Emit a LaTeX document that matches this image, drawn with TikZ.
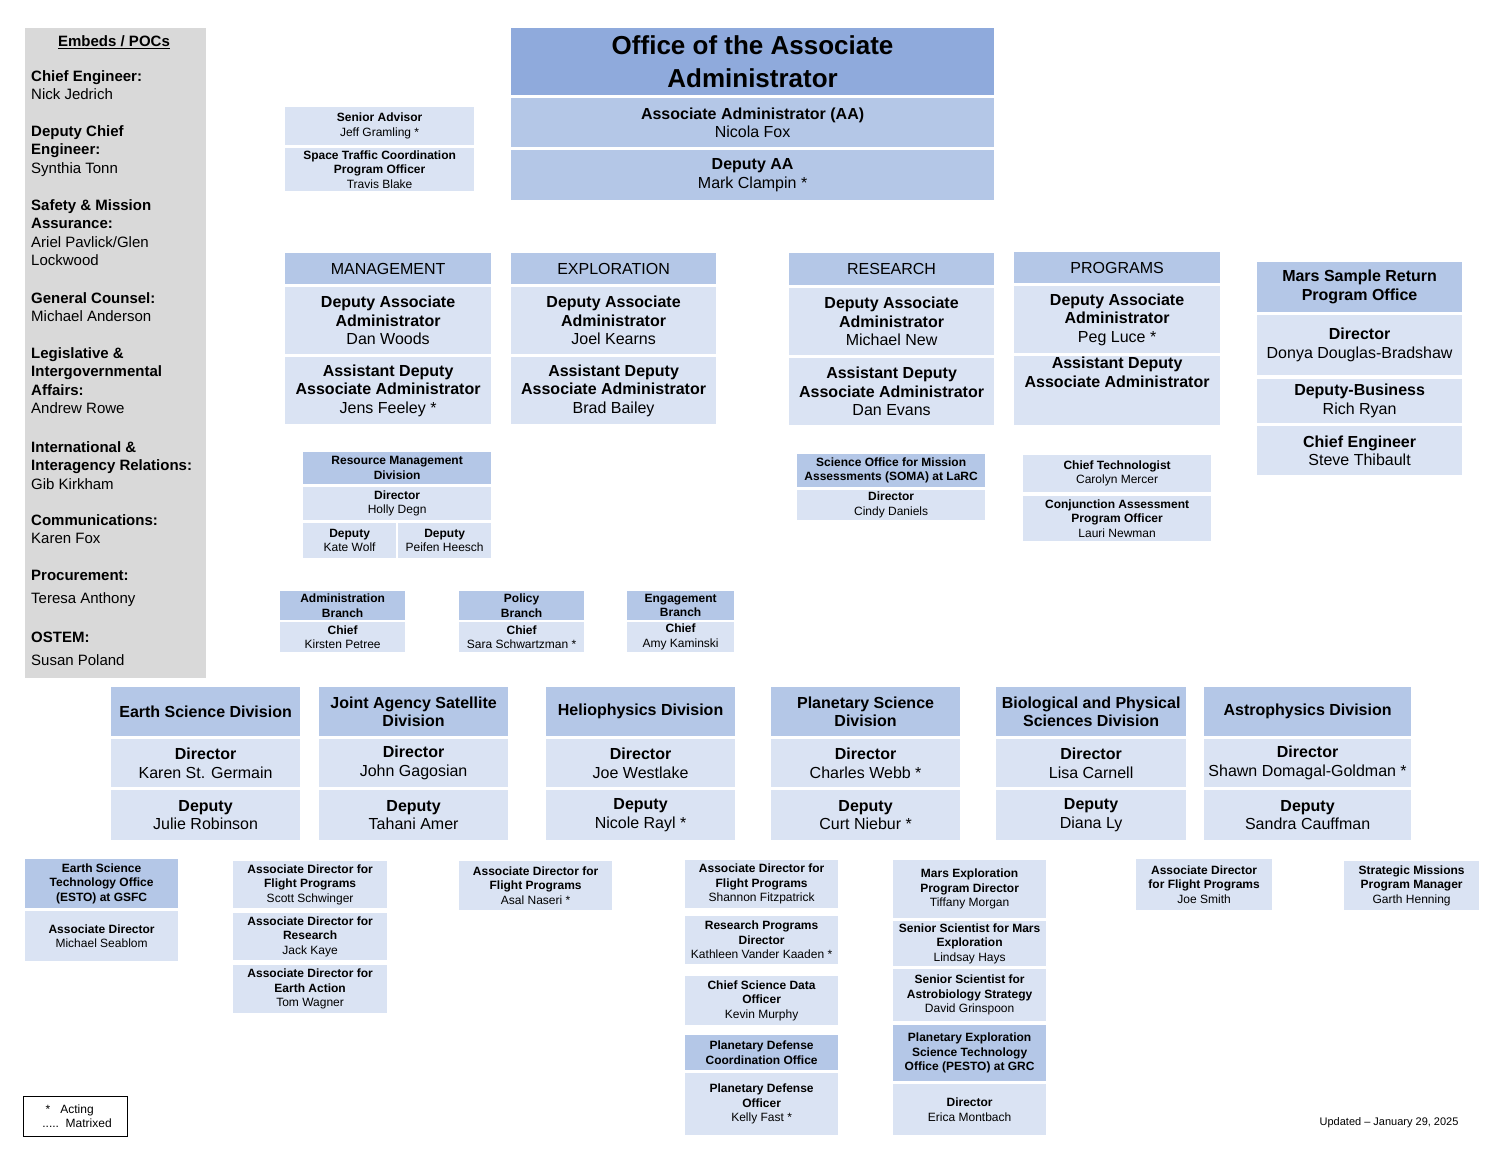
\documentclass[tikz,border=0pt]{standalone}
\usepackage{fontspec}
\setmainfont{Liberation Sans}
\usetikzlibrary{backgrounds}
\definecolor{hdrblue}{HTML}{B4C7E7}
\definecolor{bdyblue}{HTML}{DAE3F3}
\definecolor{topblue}{HTML}{8FAADC}
\definecolor{lineblue}{HTML}{B4C7E7}
\definecolor{panelgray}{HTML}{D9D9D9}
\tikzset{
  box/.style={rectangle, draw=white, line width=1.2pt, inner sep=0pt, align=center, anchor=north west},
  hdr/.style={box, fill=hdrblue},
  bdy/.style={box, fill=bdyblue},
  topb/.style={box, fill=topblue},
  fbig/.style={font=\fontsize{16}{18.5}\selectfont},
  fmid/.style={font=\fontsize{15}{18}\selectfont},
  fsm/.style={font=\fontsize{12}{14.5}\selectfont},
  conn/.style={draw=lineblue, line width=3pt},
}
% box from top left (x1,y1) to bottom right (x2,y2)
\newcommand{\bx}[7]{\node[#2, minimum width={(#5-#3)*1pt}, minimum height={(#6-#4)*1pt}] (#1) at (#3,#4) {#7};}
\begin{document}
\begin{tikzpicture}[x=1pt,y=-1pt]
\useasboundingbox[fill=white] (0,0) rectangle (1508,1159);

% left panel
\bx{panel}{box, fill=panelgray, draw=none}{24}{27}{205}{677}{}
\node[fmid] (ptitle) at (114,42) {\textbf{\underline{Embeds / POCs}}};
\begin{scope}[every node/.style={anchor=north west, align=left, inner sep=0pt, font=\fontsize{15}{18.5}\selectfont}]
\node (p1) at (31,70) {\textbf{Chief Engineer:}\\Nick Jedrich};
\node (p2) at (31,125) {\textbf{Deputy Chief}\\\textbf{Engineer:}\\Synthia Tonn};
\node (p3) at (31,199) {\textbf{Safety \& Mission}\\\textbf{Assurance:}\\Ariel Pavlick/Glen\\Lockwood};
\node (p4) at (31,292) {\textbf{General Counsel:}\\Michael Anderson};
\node (p5) at (31,347) {\textbf{Legislative \&}\\\textbf{Intergovernmental}\\\textbf{Affairs:}\\Andrew Rowe};
\node (p6) at (31,441) {\textbf{International \&}\\\textbf{Interagency Relations:}\\Gib Kirkham};
\node (p7) at (31,514) {\textbf{Communications:}\\Karen Fox};
\node (p8) at (31,570) {\textbf{Procurement:}\\[4pt]Teresa Anthony};
\node (p9) at (31,632) {\textbf{OSTEM:}\\[4pt]Susan Poland};
\end{scope}

% front office
\bx{oa}{topb, font=\fontsize{26}{33}\selectfont\bfseries}{510}{27}{994}{95}{Office of the Associate\\Administrator}
\bx{aa}{hdr, fbig}{510}{97}{994}{147}{\textbf{Associate Administrator (AA)}\\Nicola Fox}
\bx{daa}{hdr, fbig}{510}{149}{994}{200}{\textbf{Deputy AA}\\Mark Clampin *}
\bx{sa1}{bdy, fsm}{284}{106}{474}{145}{\textbf{Senior Advisor}\\Jeff Gramling *}
\bx{sa2}{bdy, fsm}{284}{147}{474}{191}{\textbf{Space Traffic Coordination}\\\textbf{Program Officer}\\Travis Blake}

% columns
\bx{mgmt}{hdr, fbig}{284}{252}{491}{284}{MANAGEMENT}
\bx{mgmt2}{bdy, fbig}{284}{286}{491}{354}{\textbf{Deputy Associate}\\\textbf{Administrator}\\Dan Woods}
\bx{mgmt3}{bdy, fbig}{284}{356}{491}{424}{\textbf{Assistant Deputy}\\\textbf{Associate Administrator}\\Jens Feeley *}
\bx{expl}{hdr, fbig}{510}{252}{716}{284}{EXPLORATION}
\bx{expl2}{bdy, fbig}{510}{286}{716}{354}{\textbf{Deputy Associate}\\\textbf{Administrator}\\Joel Kearns}
\bx{expl3}{bdy, fbig}{510}{356}{716}{424}{\textbf{Assistant Deputy}\\\textbf{Associate Administrator}\\Brad Bailey}
\bx{res}{hdr, fbig}{788}{252}{994}{285}{RESEARCH}
\bx{res2}{bdy, fbig}{788}{287}{994}{355}{\textbf{Deputy Associate}\\\textbf{Administrator}\\Michael New}
\bx{res3}{bdy, fbig}{788}{357}{994}{425}{\textbf{Assistant Deputy}\\\textbf{Associate Administrator}\\Dan Evans}
\bx{prog}{hdr, fbig}{1013}{251}{1220}{283}{PROGRAMS}
\bx{prog2}{bdy, fbig}{1013}{285}{1220}{353}{\textbf{Deputy Associate}\\\textbf{Administrator}\\Peg Luce *}
\bx{prog3}{bdy, fbig}{1013}{355}{1220}{425}{\textbf{Assistant Deputy}\\\textbf{Associate Administrator}\\[18pt]}

% mars sample return
\bx{msr}{hdr, fbig}{1256}{261}{1462}{312}{\textbf{Mars Sample Return}\\\textbf{Program Office}}
\bx{msr2}{bdy, fbig}{1256}{314}{1462}{375}{\textbf{Director}\\Donya Douglas-Bradshaw}
\bx{msr3}{bdy, fbig}{1256}{378}{1462}{423}{\textbf{Deputy-Business}\\Rich Ryan}
\bx{msr4}{bdy, fbig}{1256}{425}{1462}{475}{\textbf{Chief Engineer}\\Steve Thibault}

% management offices
\bx{rmd}{hdr, fsm}{302}{451}{491}{484}{\textbf{Resource Management}\\\textbf{Division}}
\bx{rmd2}{bdy, fsm}{302}{486}{491}{520}{\textbf{Director}\\Holly Degn}
\bx{rmd3}{bdy, fsm}{302}{522}{396}{558}{\textbf{Deputy}\\Kate Wolf}
\bx{rmd4}{bdy, fsm}{397}{522}{491}{558}{\textbf{Deputy}\\Peifen Heesch}
\bx{adm}{hdr, fsm}{279}{590}{405}{620}{\textbf{Administration}\\\textbf{Branch}}
\bx{adm2}{bdy, fsm}{279}{621}{405}{652}{\textbf{Chief}\\Kirsten Petree}
\bx{pol}{hdr, fsm}{458}{590}{584}{620}{\textbf{Policy}\\\textbf{Branch}}
\bx{pol2}{bdy, fsm}{458}{621}{584}{652}{\textbf{Chief}\\Sara Schwartzman *}
\bx{eng}{hdr, fsm}{626}{590}{734}{620}{\textbf{Engagement}\\\textbf{Branch}}
\bx{eng2}{bdy, fsm}{626}{621}{734}{652}{\textbf{Chief}\\Amy Kaminski}

% research / programs offices
\bx{soma}{hdr, fsm}{796}{453}{985}{487}{\textbf{Science Office for Mission}\\\textbf{Assessments (SOMA) at LaRC}}
\bx{soma2}{bdy, fsm}{796}{489}{985}{520}{\textbf{Director}\\Cindy Daniels}
\bx{ct}{bdy, fsm}{1022}{454}{1211}{492}{\textbf{Chief Technologist}\\Carolyn Mercer}
\bx{cap}{bdy, fsm}{1022}{495}{1211}{541}{\textbf{Conjunction Assessment}\\\textbf{Program Officer}\\Lauri Newman}

% divisions
\bx{esd}{hdr, fbig}{110}{686}{300}{736}{\textbf{Earth Science Division}}
\bx{esd2}{bdy, fbig}{110}{738}{300}{787}{\textbf{Director}\\Karen St. Germain}
\bx{esd3}{bdy, fbig}{110}{789}{300}{840}{\textbf{Deputy}\\Julie Robinson}
\bx{jasd}{hdr, fbig}{318}{686}{508}{736}{\textbf{Joint Agency Satellite}\\\textbf{Division}}
\bx{jasd2}{bdy, fbig}{318}{738}{508}{787}{\textbf{Director}\\John Gagosian}
\bx{jasd3}{bdy, fbig}{318}{789}{508}{840}{\textbf{Deputy}\\Tahani Amer}
\bx{hel}{hdr, fbig}{545}{686}{735}{736}{\textbf{Heliophysics Division}}
\bx{hel2}{bdy, fbig}{545}{738}{735}{787}{\textbf{Director}\\Joe Westlake}
\bx{hel3}{bdy, fbig}{545}{789}{735}{840}{\textbf{Deputy}\\Nicole Rayl *}
\bx{psd}{hdr, fbig}{770}{686}{960}{736}{\textbf{Planetary Science}\\\textbf{Division}}
\bx{psd2}{bdy, fbig}{770}{738}{960}{787}{\textbf{Director}\\Charles Webb *}
\bx{psd3}{bdy, fbig}{770}{789}{960}{840}{\textbf{Deputy}\\Curt Niebur *}
\bx{bps}{hdr, fbig}{995}{686}{1186}{736}{\textbf{Biological and Physical}\\\textbf{Sciences Division}}
\bx{bps2}{bdy, fbig}{995}{738}{1186}{787}{\textbf{Director}\\Lisa Carnell}
\bx{bps3}{bdy, fbig}{995}{789}{1186}{840}{\textbf{Deputy}\\Diana Ly}
\bx{ast}{hdr, fbig}{1203}{686}{1411}{736}{\textbf{Astrophysics Division}}
\bx{ast2}{bdy, fbig}{1203}{738}{1411}{787}{\textbf{Director}\\Shawn Domagal-Goldman *}
\bx{ast3}{bdy, fbig}{1203}{789}{1411}{840}{\textbf{Deputy}\\Sandra Cauffman}

% earth science offices
\bx{ead1}{bdy, fsm}{232}{860}{387}{908}{\textbf{Associate Director for}\\\textbf{Flight Programs}\\Scott Schwinger}
\bx{ead2}{bdy, fsm}{232}{912}{387}{960}{\textbf{Associate Director for}\\\textbf{Research}\\Jack Kaye}
\bx{ead3}{bdy, fsm}{232}{964}{387}{1013}{\textbf{Associate Director for}\\\textbf{Earth Action}\\Tom Wagner}
\bx{esto}{hdr, fsm}{24}{858}{178}{908}{\textbf{Earth Science}\\\textbf{Technology Office}\\\textbf{(ESTO) at GSFC}}
\bx{esto2}{bdy, fsm}{24}{910}{178}{961}{\textbf{Associate Director}\\Michael Seablom}
\bx{had}{bdy, fsm}{458}{860}{612}{910}{\textbf{Associate Director for}\\\textbf{Flight Programs}\\Asal Naseri *}

% planetary offices
\bx{pl1}{bdy, fsm}{684}{859}{838}{908}{\textbf{Associate Director for}\\\textbf{Flight Programs}\\Shannon Fitzpatrick}
\bx{pl2}{bdy, fsm}{684}{915}{838}{964}{\textbf{Research Programs}\\\textbf{Director}\\Kathleen Vander Kaaden *}
\bx{pl3}{bdy, fsm}{684}{975}{838}{1025}{\textbf{Chief Science Data}\\\textbf{Officer}\\Kevin Murphy}
\bx{pl4}{hdr, fsm}{684}{1034}{838}{1070}{\textbf{Planetary Defense}\\\textbf{Coordination Office}}
\bx{pl5}{bdy, fsm}{684}{1072}{838}{1135}{\textbf{Planetary Defense}\\\textbf{Officer}\\Kelly Fast *}
\bx{pr1}{bdy, fsm}{892}{859}{1046}{918}{\textbf{Mars Exploration}\\\textbf{Program Director}\\Tiffany Morgan}
\bx{pr2}{bdy, fsm}{892}{920}{1046}{966}{\textbf{Senior Scientist for Mars}\\\textbf{Exploration}\\Lindsay Hays}
\bx{pr3}{bdy, fsm}{892}{968}{1046}{1021}{\textbf{Senior Scientist for}\\\textbf{Astrobiology Strategy}\\David Grinspoon}
\bx{pr4}{hdr, fsm}{892}{1024}{1046}{1081}{\textbf{Planetary Exploration}\\\textbf{Science Technology}\\\textbf{Office (PESTO) at GRC}}
\bx{pr5}{bdy, fsm}{892}{1083}{1046}{1135}{\textbf{Director}\\Erica Montbach}

% astrophysics offices
\bx{aad}{bdy, fsm}{1135}{858}{1272}{910}{\textbf{Associate Director}\\\textbf{for Flight Programs}\\Joe Smith}
\bx{smpm}{bdy, fsm}{1343}{860}{1479}{910}{\textbf{Strategic Missions}\\\textbf{Program Manager}\\Garth Henning}

% legend
\node[draw, line width=0.8pt, anchor=north west, minimum width=104pt, minimum height=40pt, align=left, inner sep=0pt, fsm] (legend) at (23,1096) {\ \ *\ \ \ Acting\\\ .....\ \ Matrixed};
\node[anchor=east, font=\fontsize{11}{13}\selectfont] (upd) at (1462,1123) {Updated -- January 29, 2025};

% connectors
\coordinate (j1) at (752,222);
\coordinate (j2) at (752,235);
\coordinate (j3) at (752,668);
\coordinate (m2) at (267,572);
\coordinate (m3) at (267,441);
\coordinate (pj) at (865,1054);
\begin{scope}[on background layer, every path/.style={conn}]
\draw (sa1.south east) -- (aa.south west);
\draw (oa.east) -| (msr.north);
\draw (daa.south) -- (j3);
\draw (j1) -- (panel.east |- j1);
\draw (mgmt.north) |- (j2) -| (prog.north);
\draw (expl.north) -- (expl.north |- j2);
\draw (res.north) -- (res.north |- j2);
\draw (mgmt.west) -| (m2) -| (eng.north);
\draw (adm.north) -- (adm.north |- m2);
\draw (pol.north) -- (pol.north |- m2);
\draw (mgmt3.south) -- (mgmt3.south |- rmd.north);
\draw (m3) -- (m3 -| mgmt3.south);
\draw[dash pattern=on 3pt off 3pt] (res3.south) -- (soma.north);
\draw (prog3.south) -- (ct.north);
\draw (esd.north) |- (j3) -| (ast.north);
\foreach \d in {jasd, hel, psd, bps} \draw (\d.north) -- (\d.north |- j3);
\draw (esd3.south) |- (ead3.west);
\draw (ead1.west) -- (ead1.west -| esd3.south);
\draw (ead2.west) -- (ead2.west -| esd3.south);
\draw[dash pattern=on 3pt off 3pt] (esto.east) -- (esto.east -| esd3.south);
\draw (hel3.south) |- (had.east);
\draw (psd3.south) -- (pj);
\foreach \b in {pl1, pl2, pl3, pl4} \draw (\b.east) -- (\b.east -| pj);
\foreach \b in {pr1, pr2, pr3} \draw (\b.west) -- (\b.west -| pj);
\draw[dash pattern=on 3pt off 3pt] (pj) -- (pj -| pr4.west);
\draw (ast3.south) |- (aad.east);
\draw (ast3.south |- aad.east) -- (smpm.west);
\end{scope}
\end{tikzpicture}
\end{document}
